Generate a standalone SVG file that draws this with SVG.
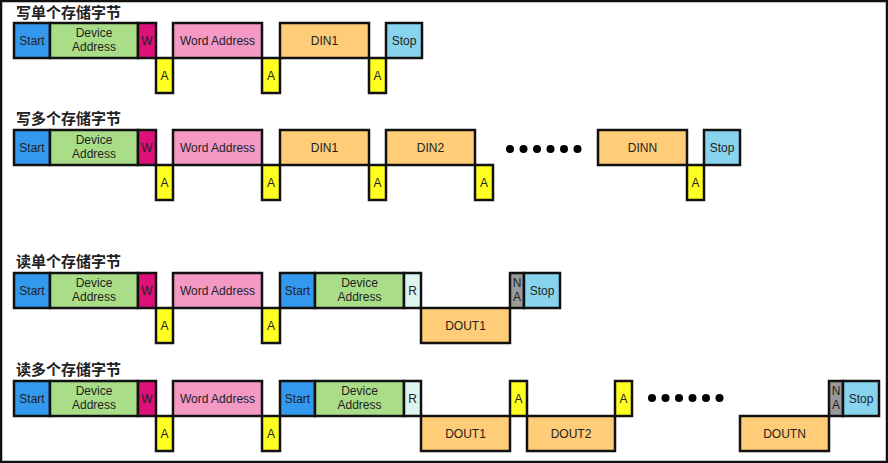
<svg xmlns="http://www.w3.org/2000/svg" width="888" height="463" viewBox="0 0 888 463">
<style>
rect{stroke:#111;stroke-width:2.5}
.s{fill:#3399ee}.d{fill:#aadd88}.w{fill:#dd1177}.a{fill:#ffff22}.wa{fill:#f499c4}.o{fill:#ffcc77}.p{fill:#88d4ee}.r{fill:#ddf4f0}.n{fill:#999}
text{font-family:"Liberation Sans",Arial,sans-serif;font-size:12px;text-anchor:middle;fill:#222}
.t{font-family:"Noto Sans CJK SC",sans-serif;font-size:15px;font-weight:bold;text-anchor:start}
.dot{fill:#000}
</style>
<rect x="1" y="1" width="886" height="461" fill="#fff" stroke="#333" stroke-width="1.5"/>
<g id="row1">
<text class="t" x="16" y="18">写单个存储字节</text>
<rect class="s" x="14" y="23" width="36" height="35"/><text x="32" y="45">Start</text>
<rect class="d" x="50" y="23" width="88" height="35"/><text x="94" y="37">Device</text><text x="94" y="51">Address</text>
<rect class="w" x="138" y="23" width="18" height="35"/><text x="147" y="45">W</text>
<rect class="a" x="156" y="58" width="17" height="35"/><text x="164.5" y="80">A</text>
<rect class="wa" x="173" y="23" width="89" height="35"/><text x="217.5" y="45">Word Address</text>
<rect class="a" x="262" y="58" width="18" height="35"/><text x="271" y="80">A</text>
<rect class="o" x="280" y="23" width="89" height="35"/><text x="324.5" y="45">DIN1</text>
<rect class="a" x="369" y="58" width="17" height="35"/><text x="377.5" y="80">A</text>
<rect class="p" x="386" y="23" width="36" height="35"/><text x="404" y="45">Stop</text>
</g>
<g id="row2">
<text class="t" x="16" y="124">写多个存储字节</text>
<rect class="s" x="14" y="130" width="36" height="35"/><text x="32" y="152">Start</text>
<rect class="d" x="50" y="130" width="88" height="35"/><text x="94" y="144">Device</text><text x="94" y="158">Address</text>
<rect class="w" x="138" y="130" width="18" height="35"/><text x="147" y="152">W</text>
<rect class="a" x="156" y="165" width="17" height="35"/><text x="164.5" y="187">A</text>
<rect class="wa" x="173" y="130" width="89" height="35"/><text x="217.5" y="152">Word Address</text>
<rect class="a" x="262" y="165" width="18" height="35"/><text x="271" y="187">A</text>
<rect class="o" x="280" y="130" width="89" height="35"/><text x="324.5" y="152">DIN1</text>
<rect class="a" x="369" y="165" width="17" height="35"/><text x="377.5" y="187">A</text>
<rect class="o" x="386" y="130" width="89" height="35"/><text x="430.5" y="152">DIN2</text>
<rect class="a" x="475" y="165" width="18" height="35"/><text x="484" y="187">A</text>
<g class="dot"><circle cx="510" cy="149" r="4"/><circle cx="523.5" cy="149" r="4"/><circle cx="537" cy="149" r="4"/><circle cx="550.5" cy="149" r="4"/><circle cx="564" cy="149" r="4"/><circle cx="577.5" cy="149" r="4"/></g>
<rect class="o" x="598" y="130" width="89" height="35"/><text x="642.5" y="152">DINN</text>
<rect class="a" x="687" y="165" width="17" height="35"/><text x="695.5" y="187">A</text>
<rect class="p" x="704" y="130" width="36" height="35"/><text x="722" y="152">Stop</text>
</g>
<g id="row3">
<text class="t" x="16" y="267">读单个存储字节</text>
<rect class="s" x="14" y="273" width="36" height="35"/><text x="32" y="295">Start</text>
<rect class="d" x="50" y="273" width="88" height="35"/><text x="94" y="287">Device</text><text x="94" y="301">Address</text>
<rect class="w" x="138" y="273" width="18" height="35"/><text x="147" y="295">W</text>
<rect class="a" x="156" y="308" width="17" height="35"/><text x="164.5" y="330">A</text>
<rect class="wa" x="173" y="273" width="89" height="35"/><text x="217.5" y="295">Word Address</text>
<rect class="a" x="262" y="308" width="18" height="35"/><text x="271" y="330">A</text>
<rect class="s" x="280" y="273" width="35" height="35"/><text x="297.5" y="295">Start</text>
<rect class="d" x="315" y="273" width="89" height="35"/><text x="359.5" y="287">Device</text><text x="359.5" y="301">Address</text>
<rect class="r" x="404" y="273" width="17" height="35"/><text x="412.5" y="295">R</text>
<rect class="o" x="421" y="308" width="89" height="35"/><text x="465.5" y="330">DOUT1</text>
<rect class="n" x="510" y="273" width="14" height="35"/><text x="517" y="287">N</text><text x="517" y="301">A</text>
<rect class="p" x="524" y="273" width="36" height="35"/><text x="542" y="295">Stop</text>
</g>
<g id="row4">
<text class="t" x="16" y="375">读多个存储字节</text>
<rect class="s" x="14" y="381" width="36" height="35"/><text x="32" y="403">Start</text>
<rect class="d" x="50" y="381" width="88" height="35"/><text x="94" y="395">Device</text><text x="94" y="409">Address</text>
<rect class="w" x="138" y="381" width="18" height="35"/><text x="147" y="403">W</text>
<rect class="a" x="156" y="416" width="17" height="35"/><text x="164.5" y="438">A</text>
<rect class="wa" x="173" y="381" width="89" height="35"/><text x="217.5" y="403">Word Address</text>
<rect class="a" x="262" y="416" width="18" height="35"/><text x="271" y="438">A</text>
<rect class="s" x="280" y="381" width="35" height="35"/><text x="297.5" y="403">Start</text>
<rect class="d" x="315" y="381" width="89" height="35"/><text x="359.5" y="395">Device</text><text x="359.5" y="409">Address</text>
<rect class="r" x="404" y="381" width="17" height="35"/><text x="412.5" y="403">R</text>
<rect class="o" x="421" y="416" width="89" height="35"/><text x="465.5" y="438">DOUT1</text>
<rect class="a" x="510" y="381" width="17" height="35"/><text x="518.5" y="403">A</text>
<rect class="o" x="527" y="416" width="88" height="35"/><text x="571" y="438">DOUT2</text>
<rect class="a" x="615" y="381" width="17" height="35"/><text x="623.5" y="403">A</text>
<g class="dot"><circle cx="652" cy="398" r="4"/><circle cx="665.5" cy="398" r="4"/><circle cx="679" cy="398" r="4"/><circle cx="692.5" cy="398" r="4"/><circle cx="706" cy="398" r="4"/><circle cx="719.5" cy="398" r="4"/></g>
<rect class="o" x="740" y="416" width="89" height="35"/><text x="784.5" y="438">DOUTN</text>
<rect class="n" x="829" y="381" width="14" height="35"/><text x="836" y="395">N</text><text x="836" y="409">A</text>
<rect class="p" x="843" y="381" width="36" height="35"/><text x="861" y="403">Stop</text>
</g>
<g id="connectors"></g>
</svg>
